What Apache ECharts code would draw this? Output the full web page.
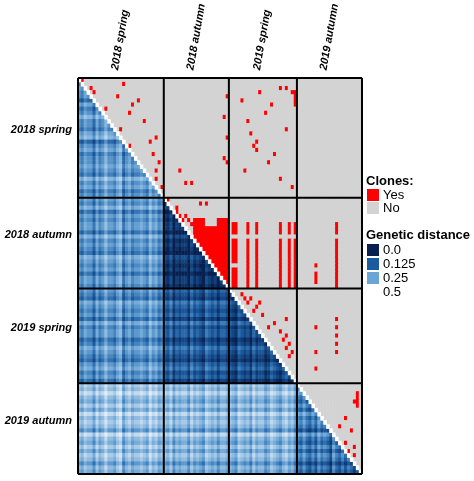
<!DOCTYPE html>
<html><head><meta charset="utf-8">
<script src="https://cdn.jsdelivr.net/npm/echarts@6/dist/echarts.min.js"></script>
<style>html,body{margin:0;padding:0;background:#fff}#c{width:474px;height:481px}</style>
</head><body><div id="c"></div>
<script>
const groups = ['2018 spring','2018 autumn','2019 spring','2019 autumn'];
const groupSizes = [29,22,23,22];
// estimated mean genetic distance per group pair (row group, col group)
const blockBase = [
 [0.22,0.24,0.23,0.30],
 [0.24,0.07,0.15,0.30],
 [0.23,0.15,0.12,0.30],
 [0.30,0.30,0.30,0.16]
];
// per-sample stripe offsets (0..4, 2 = neutral)
const sampleProfile = [
 "21322031242213402312232142312",
 "2130212203121032120221",
 "21032120312201321023120",
 "3242131423204213132021"
];
// clone pairs [row, col] (upper triangle)
const clonePairs = [
 [1,15],[2,4],[3,5],[4,13],[5,20],[6,18],[7,9],[8,17],[10,22],[12,14],[14,26],[15,24],[18,25],[20,27],[22,26],[0,1],[16,17],[24,26],[26,28],
 [3,61],[3,72],[3,73],[4,73],[5,73],[6,73],[2,68],[2,70],[5,55],[6,65],[8,63],[10,57],[12,70],[16,59],[18,66],[20,64],[22,56],[24,68],[26,72],[4,50],[14,50],[20,50],[25,36],[25,38],[22,34],[9,49],[19,49],[13,58],[15,60],[17,60],
 [33,31],[33,32],[33,34],[33,36],[34,35],[34,37],[35,38],[29,30],[30,41],[30,43],
 [45,80],[52,55],[53,58],[54,57],[55,60],[56,59],[57,62],[58,70],[60,64],[62,70],[64,71],[66,72],[53,56],[54,61],[59,66],[61,68],[63,69],[65,70],[67,71],[58,87],[60,87],[62,87],[64,87],[66,87],[60,80],[66,80],[70,80],
 [76,94],[77,94],[78,94],[79,94],[78,93],[82,90],[84,88],[85,92],[88,90],[89,93],[90,91],[91,93]
];
// clone segments [rowStart,rowEnd,col]
const cloneSegments = [
 [34,50,39],[34,50,40],[34,50,41],[34,50,42],[36,50,43],[36,50,44],[36,50,45],[36,50,46],[34,50,47],[34,50,48],[34,50,49],[34,50,50],
 [35,37,52],[39,44,52],[46,50,52],[35,37,53],[39,44,53],[46,50,53],
 [35,37,57],[39,50,57],[35,37,60],[39,50,60],
 [35,37,68],[39,50,68],[35,37,71],[39,50,71],[35,37,73],[39,50,73],
 [35,37,87],[39,50,87],[47,49,80]
];

const N = groupSizes.reduce((a,b)=>a+b,0);
const gOf=[], prof=[];
groupSizes.forEach((s,g)=>{for(let k=0;k<s;k++){gOf.push(g);const ch=sampleProfile[g].charAt(k);prof.push(ch?(+ch-2):0);}});
const dist=[];
for(let i=0;i<N;i++)for(let j=0;j<i;j++){
  let v=blockBase[gOf[i]][gOf[j]]+0.035*(prof[i]+prof[j]);
  v=Math.max(0,Math.min(0.5,v));
  dist.push([j,i,v]);
}
const cl=new Set();
clonePairs.forEach(p=>{const r=Math.min(p[0],p[1]),c=Math.max(p[0],p[1]);if(r!==c)cl.add(r*N+c);});
cloneSegments.forEach(s=>{for(let r=s[0];r<=s[1];r++)if(s[2]>r)cl.add(r*N+s[2]);});
const clones=[];
for(let i=0;i<N;i++)for(let j=i+1;j<N;j++)clones.push([j,i,cl.has(i*N+j)?1:0]);
const diag=[];for(let i=0;i<N;i++)diag.push([i,i,1]);
const idx=[...Array(N).keys()].map(String);

const chart=echarts.init(document.getElementById('c'));
chart.setOption({
  animation:false,
  grid:{left:78,top:78,width:284,height:396},
  xAxis:{type:'category',data:idx,show:false},
  yAxis:{type:'category',data:idx,inverse:true,show:false},
  visualMap:[
   {show:false,seriesIndex:0,min:0,max:0.5,inRange:{color:['#08204f','#1a5a9e','#6aa5d6','#c6dcef','#ffffff']}},
   {show:false,type:'piecewise',seriesIndex:1,pieces:[{value:1,color:'#ff0000'},{value:0,color:'#d3d3d3'}]},
   {show:false,type:'piecewise',seriesIndex:2,pieces:[{value:1,color:'#ffffff'}]}
  ],
  series:[
   {type:'heatmap',data:dist,itemStyle:{borderWidth:0}},
   {type:'heatmap',data:clones,itemStyle:{borderWidth:0}},
   {type:'heatmap',data:diag,itemStyle:{borderWidth:0}}
  ]
});
const el=[];
const bounds=[0];groupSizes.forEach(s=>bounds.push(bounds[bounds.length-1]+s));
const px=k=>78+284*k/N, py=k=>78+396*k/N;
bounds.forEach(b=>{
  el.push({type:'line',shape:{x1:px(b),y1:78,x2:px(b),y2:474},style:{stroke:'#000',lineWidth:2},z:10});
  el.push({type:'line',shape:{x1:78,y1:py(b),x2:362,y2:py(b)},style:{stroke:'#000',lineWidth:2},z:10});
});
const font='italic bold 11px "Liberation Sans", Arial, sans-serif';
groups.forEach((g,k)=>{
  const cx=(px(bounds[k])+px(bounds[k+1]))/2, cy=(py(bounds[k])+py(bounds[k+1]))/2;
  el.push({type:'text',x:cx-6,y:70,rotation:80*Math.PI/180,style:{text:g,font:font,fill:'#000',align:'left',verticalAlign:'middle'}});
  el.push({type:'text',x:72,y:cy-8,style:{text:g,font:font,fill:'#000',align:'right',verticalAlign:'middle'}});
});
const lf='13px "Liberation Sans", Arial, sans-serif', bf='bold 13px "Liberation Sans", Arial, sans-serif';
el.push({type:'text',x:366,y:181,style:{text:'Clones:',font:bf,fill:'#000',verticalAlign:'middle'}});
[['#ff0000','Yes',195],['#d3d3d3','No',208]].forEach(a=>{
  el.push({type:'rect',shape:{x:367,y:a[2]-6,width:12,height:12},style:{fill:a[0]}});
  el.push({type:'text',x:383,y:a[2],style:{text:a[1],font:lf,fill:'#000',verticalAlign:'middle'}});
});
el.push({type:'text',x:366,y:235,style:{text:'Genetic distance',font:bf,fill:'#000',verticalAlign:'middle'}});
[['#08204f','0.0',250],['#1a5a9e','0.125',264],['#6aa5d6','0.25',278],['#ffffff','0.5',292]].forEach(a=>{
  el.push({type:'rect',shape:{x:367,y:a[2]-6,width:12,height:12},style:{fill:a[0]}});
  el.push({type:'text',x:383,y:a[2],style:{text:a[1],font:lf,fill:'#000',verticalAlign:'middle'}});
});
chart.setOption({graphic:{elements:el}});
</script></body></html>
